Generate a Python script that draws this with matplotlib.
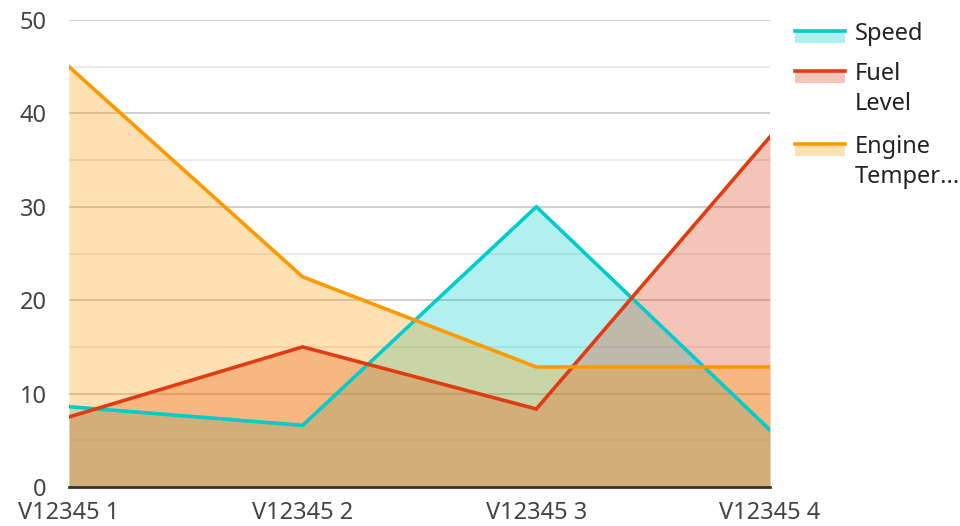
import matplotlib
matplotlib.use("Agg")
import matplotlib.pyplot as plt
from matplotlib.patches import Rectangle
from matplotlib.lines import Line2D

plt.rcParams['font.family'] = ['Noto Sans', 'DejaVu Sans']

categories = ["V12345 1", "V12345 2", "V12345 3", "V12345 4"]
speed = [8.6, 6.6, 30.0, 6.1]
fuel_level = [7.5, 15.0, 8.35, 37.5]
engine_temp = [45.0, 22.5, 12.85, 12.85]

series_names = ["Speed", "Fuel\nLevel", "Engine\nTemper..."]
series_values = [speed, fuel_level, engine_temp]
colors = ["#00CCCC", "#E03C14", "#FF9900"]

W, H = 960, 526
fig = plt.figure(figsize=(W / 100, H / 100), dpi=100)
ax = fig.add_axes([69 / W, (H - 487) / H, (770 - 69) / W, (487 - 20) / H])

x = list(range(len(categories)))
for vals, c in zip(series_values, colors):
    ax.fill_between(x, 0, vals, color=c, alpha=0.3, linewidth=0, zorder=2)
for vals, c in zip(series_values, colors):
    ax.plot(x, vals, color=c, linewidth=2.6, zorder=3, solid_joinstyle='miter')

ax.set_xlim(0, len(categories) - 1)
ax.set_ylim(0, 50)
ax.set_yticks(range(0, 51, 10))
ax.set_yticks(range(5, 50, 10), minor=True)
ax.grid(axis='y', which='major', color='#CCCCCC', linewidth=1.3, zorder=1)
ax.grid(axis='y', which='minor', color='#E8E8E8', linewidth=1.3, zorder=1)
ax.set_xticks(x)
ax.set_xticklabels(categories)
for s in ['left', 'right', 'top']:
    ax.spines[s].set_visible(False)
ax.spines['bottom'].set_color('#333333')
ax.spines['bottom'].set_linewidth(2)
ax.spines['bottom'].set_zorder(4)
ax.tick_params(axis='both', which='both', length=0, labelsize=17, labelcolor='#444444')
ax.tick_params(axis='y', pad=16)
ax.tick_params(axis='x', pad=10)

# legend drawn manually
legend_y = [31, 71, 144]
for name, c, y in zip(series_names, colors, legend_y):
    fig.patches.append(Rectangle((795 / W, 1 - (y + 12) / H), 50 / W, 12 / H,
                                 transform=fig.transFigure, facecolor=c, alpha=0.3,
                                 linewidth=0))
    fig.lines.append(Line2D([795 / W, 845 / W], [1 - y / H, 1 - y / H],
                            transform=fig.transFigure, color=c, linewidth=2.6))
    fig.text(855 / W, 1 - (y - 9) / H, name, fontsize=17, color='#222222',
             va='top', ha='left', linespacing=1.35)

fig.savefig("out.png", dpi=100)
